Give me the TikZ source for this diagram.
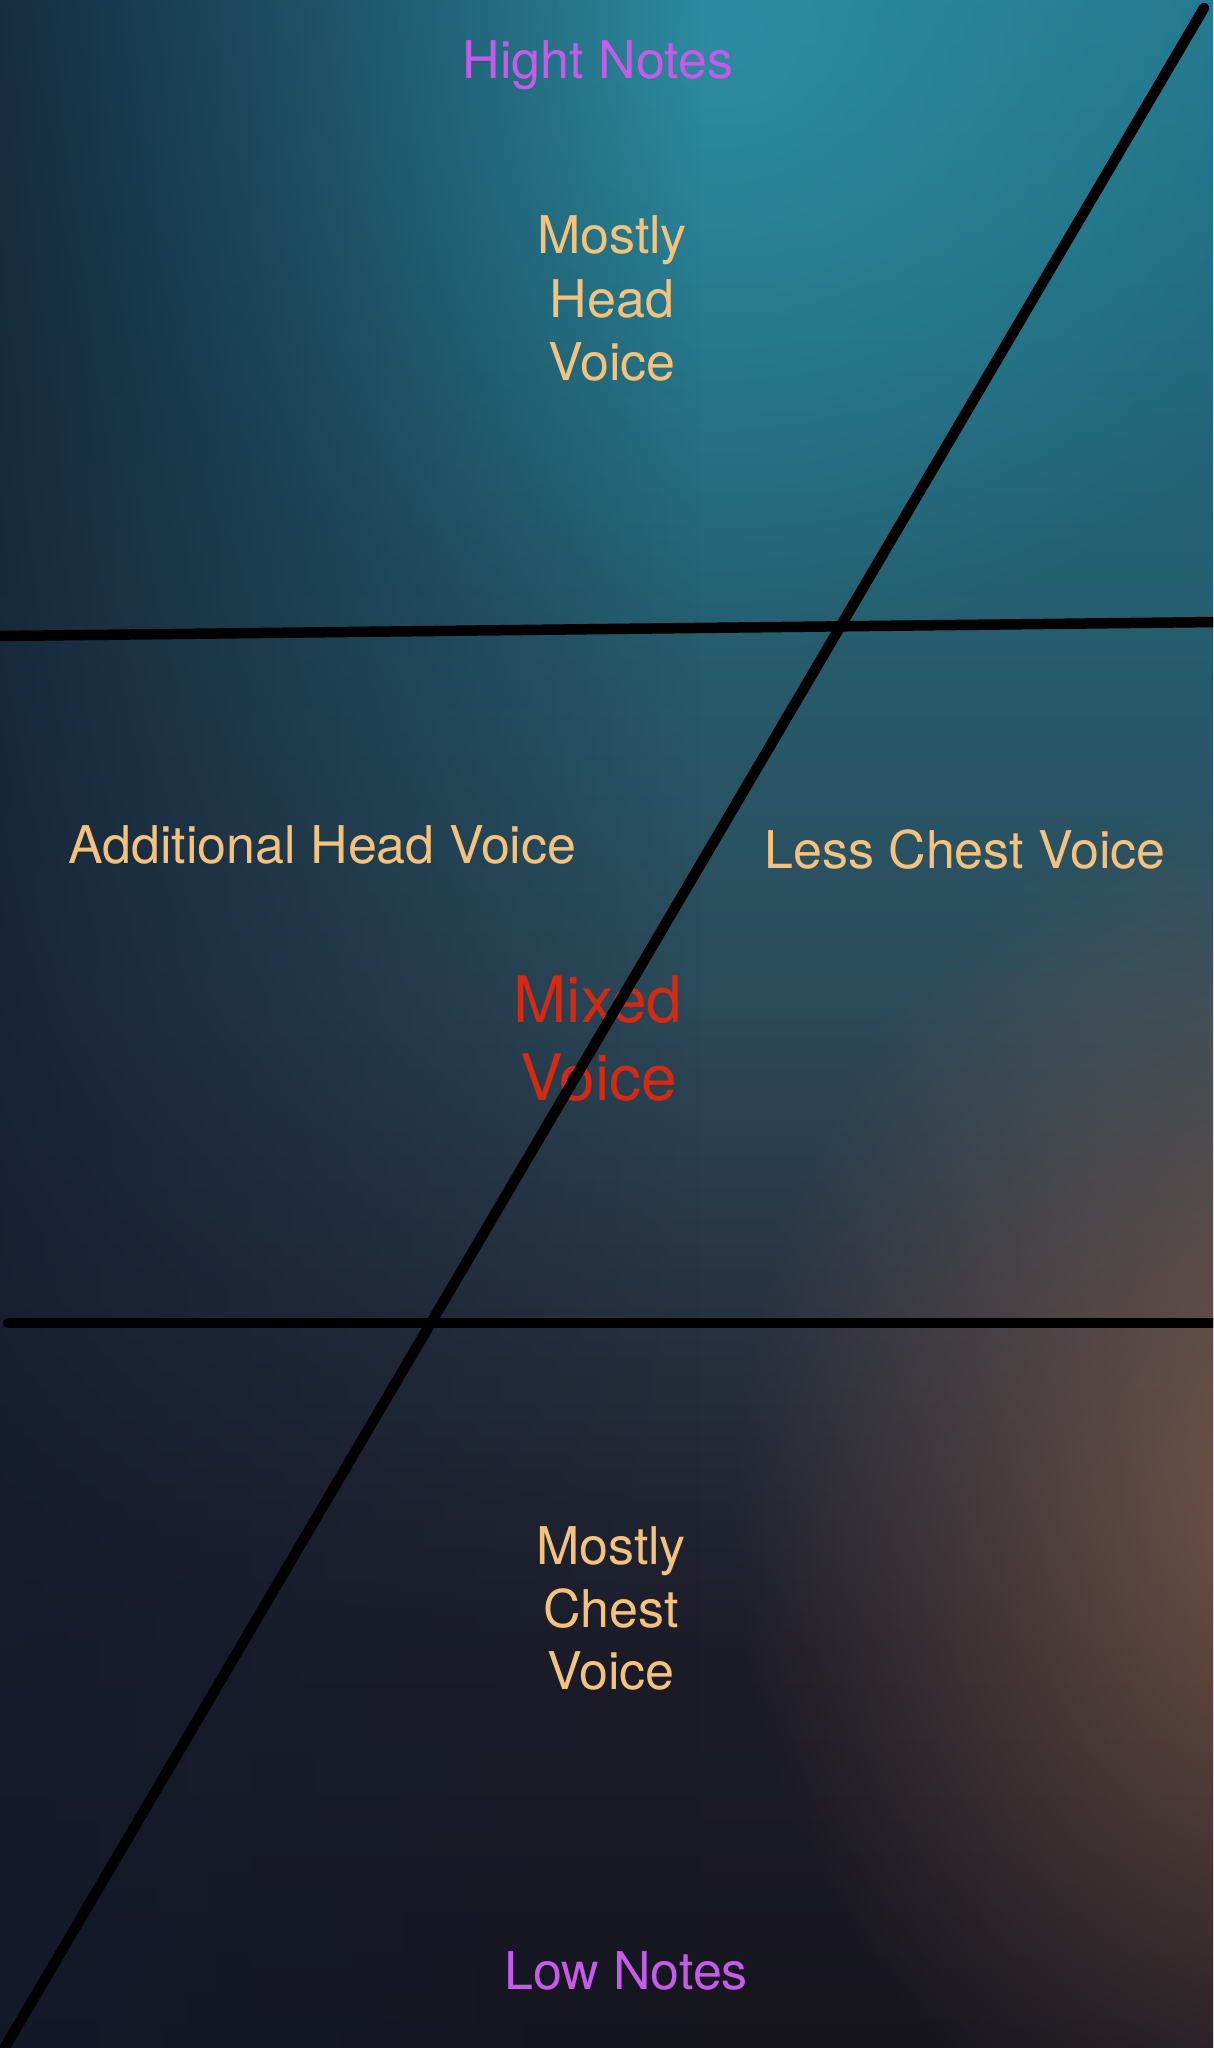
\documentclass[tikz,border=0pt]{standalone}
\usepackage{fontspec}
\setmainfont{TeX Gyre Heros}
\usetikzlibrary{fadings}
\definecolor{peach}{HTML}{F4C27C}
\definecolor{notepurple}{HTML}{C65BEA}
\definecolor{mixred}{HTML}{D42A12}
\definecolor{bgA}{HTML}{16151E}
\definecolor{bgB}{HTML}{1C1C28}
\definecolor{bgC}{HTML}{283241}
\definecolor{bgD}{HTML}{2C4A5A}
\definecolor{bgE}{HTML}{255D6E}
\definecolor{bgF}{HTML}{20687B}
\definecolor{bgG}{HTML}{23748A}
\definecolor{tealhi}{HTML}{2E90A5}
\definecolor{brownglow}{HTML}{86604E}
\definecolor{navyshade}{HTML}{131A2D}
\pgfdeclareverticalshading{bgbase}{100bp}{color(0bp)=(bgA); color(25bp)=(bgA); color(34.7bp)=(bgB); color(43.3bp)=(bgC); color(50.6bp)=(bgD); color(59.6bp)=(bgE); color(67.7bp)=(bgF); color(75bp)=(bgG); color(100bp)=(bgG)}
\tikzfading[name=glowfade, inner color=transparent!0, outer color=transparent!100]
\tikzfading[name=leftfade, left color=transparent!20, right color=transparent!100]
\begin{document}
\begin{tikzpicture}[x=1pt,y=1pt,
  lbl/.style={text=peach, font=\fontsize{52}{62}\selectfont, inner sep=0pt, anchor=base},
  notelbl/.style={text=notepurple, font=\fontsize{52}{62}\selectfont, inner sep=0pt, anchor=base},
  mixlbl/.style={text=mixred, font=\fontsize{64}{76}\selectfont, inner sep=0pt, anchor=base},
  divider/.style={draw=black, line width=10.5pt, line cap=round}]
\useasboundingbox (0,0) rectangle (1213,-2048);
\begin{scope}
\clip (0,0) rectangle (1213,-2048);
\shade[shading=bgbase] (-5,5) rectangle (1218,-2053);
\fill[tealhi, path fading=glowfade, fill opacity=0.85] (720,-40) ellipse (680 and 620);
\fill[brownglow, path fading=glowfade, fill opacity=0.85] (1330,-1500) ellipse (600 and 720);
\fill[navyshade, path fading=leftfade] (-20,60) rectangle (700,-2100);

% labels
\node[notelbl] (high) at (598,-78) {Hight Notes};
\node[lbl] (hv1) at (612,-253) {Mostly};
\node[lbl] (hv2) at (612,-317) {Head};
\node[lbl] (hv3) at (612,-380) {Voice};
\node[lbl, anchor=base west] (addhead) at (68,-863) {Additional Head Voice};
\node[lbl, anchor=base west] (lesschest) at (764,-868) {Less Chest Voice};
\node[mixlbl] (mix1) at (598,-1022) {Mixed};
\node[mixlbl] (mix2) at (599,-1100) {Voice};
\node[lbl] (cv1) at (611,-1564) {Mostly};
\node[lbl] (cv2) at (611,-1627) {Chest};
\node[lbl] (cv3) at (611,-1689) {Voice};
\node[notelbl] (low) at (626,-1989) {Low Notes};

% dividing lines
\coordinate (ul) at (-10,-636.1);
\coordinate (ur) at (1225,-621.9);
\coordinate (ll) at (8,-1323);
\coordinate (lr) at (1225,-1323);
\coordinate (dt) at (1204,-8);
\coordinate (db) at (-6,-2066);
\draw[divider] (ul) -- (ur);
\draw[divider] (ll) -- (lr);
\draw[divider] (dt) -- (db);
\end{scope}
\end{tikzpicture}
\end{document}
